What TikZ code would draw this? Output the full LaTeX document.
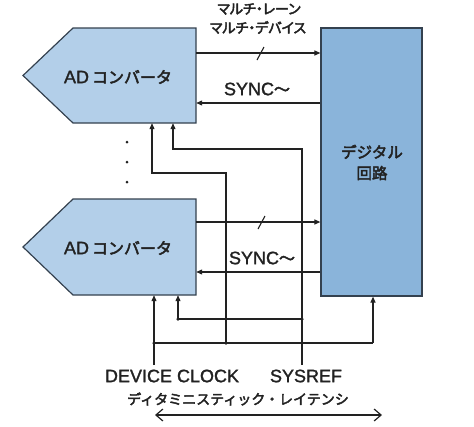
\documentclass[tikz,border=0pt]{standalone}
\usepackage{fontspec}
\setmainfont[UprightFeatures={FakeBold=1.5}]{Liberation Sans}
\newfontfamily\jp[UprightFeatures={FakeBold=3}]{Noto Sans CJK JP}
\newfontfamily\jpp[UprightFeatures={FakeBold=3},RawFeature=+palt]{Noto Sans CJK JP}
\usetikzlibrary{arrows.meta}
\definecolor{adcfill}{HTML}{B3CFE9}
\definecolor{digfill}{HTML}{8AB4DA}
\definecolor{edge}{HTML}{34414F}
\definecolor{ink}{HTML}{222222}
\tikzset{
  blk/.style={draw=edge, line width=1.2pt, line join=miter},
  wire/.style={draw=ink, line width=1.1pt},
  arr/.style={wire, -{Triangle[length=6pt,width=5pt]}},
  jdot/.style={circle, fill=ink, inner sep=0pt, minimum size=3.5pt},
  lat/.style={text=ink, font=\fontsize{18}{21}\selectfont, inner sep=0pt},
  jpl/.style={text=ink, font=\jpp\fontsize{14}{16}\selectfont, inner sep=0pt},
  mybarb/.tip={Straight Barb[length=7pt,width=12pt,line width=1.2pt]},
}
\begin{document}
\begin{tikzpicture}[x=1pt,y=-1pt]
\useasboundingbox (0,0) rectangle (474,426);

% ADC blocks
\path[blk, fill=adcfill] (73,28) -- (196,28) -- (196,123) -- (73,123) -- (23,75.5) -- cycle;
\path[blk, fill=adcfill] (73,199) -- (196,199) -- (196,295) -- (73,295) -- (23,247) -- cycle;
\node[minimum width=123pt, minimum height=95pt, inner sep=0pt] (adc1) at (134.5,75.5) {};
\node[minimum width=123pt, minimum height=96pt, inner sep=0pt] (adc2) at (134.5,247) {};
\node[text=ink, inner sep=0pt] (l1) at (118,77) {\fontsize{18}{21}\selectfont AD\,{\jp\fontsize{16}{18}\selectfont コンバータ}};
\node[text=ink, inner sep=0pt] (l2) at (118,248) {\fontsize{18}{21}\selectfont AD\,{\jp\fontsize{16}{18}\selectfont コンバータ}};

% digital block
\node[blk, fill=digfill, minimum width=101pt, minimum height=268pt, inner sep=0pt] (dig) at (371.5,162) {};
\node[text=ink, align=center, font=\jp\fontsize{15.5}{21}\selectfont, inner sep=0pt] (dl) at (372,162.5) {デジタル\\回路};

% helper coordinates
\coordinate (r1) at (0,53);
\coordinate (s1) at (0,103);
\coordinate (r2) at (0,222);
\coordinate (s2) at (0,272);

% data and sync
\draw[arr] (adc1.east |- r1) -- (dig.west |- r1);
\draw[arr] (dig.west |- s1) -- (adc1.east |- s1);
\draw[arr] (adc2.east |- r2) -- (dig.west |- r2);
\draw[arr] (dig.west |- s2) -- (adc2.east |- s2);
\draw[wire] (257,60) -- (264,47);
\draw[wire] (258,229) -- (265,216);

\node[jpl] (ml) at (259,9) {マルチ・レーン};
\node[jpl] (md) at (258,27.5) {マルチ・デバイス};
\node[lat] (sy1) at (257,89) {SYNC{\jp\fontsize{16}{18}\selectfont 〜}};
\node[lat] (sy2) at (262,258) {SYNC{\jp\fontsize{16}{18}\selectfont 〜}};

% clock / sysref
\node[lat] (dc) at (172,376) {DEVICE CLOCK};
\node[lat] (sr) at (306,376) {SYSREF};
\coordinate (dcs) at (154,365);
\coordinate (srs) at (302,365);
\coordinate (j1) at (154,343);
\coordinate (j2) at (226,343);
\coordinate (j3) at (178,319);
\coordinate (j4) at (302,319);
\coordinate (j5) at (373,343);
\coordinate (c1) at (152,173);
\coordinate (c2) at (173,149);

\draw[arr] (dcs) -- (dcs |- adc2.south);
\draw[wire] (j1) -- (j5);
\draw[arr] (j5) -- (j5 |- dig.south);
\draw[arr] (j2) |- (c1) -- (c1 |- adc1.south);
\draw[arr] (srs) |- (c2) -- (c2 |- adc1.south);
\draw[arr] (j4) -- (j3) -- (j3 |- adc2.south);

\foreach \p in {j1,j2,j3,j4} \node[jdot] at (\p) {};
\foreach \yy in {142,162,182} \node[jdot, minimum size=3pt] at (127,\yy) {};

% deterministic latency
\node[text=ink, font=\jp\fontsize{14}{16}\selectfont, inner sep=0pt] (dl2) at (238,399) {ディタミニスティック・レイテンシ};
\coordinate (la) at (155,415);
\coordinate (lb) at (382,415);
\draw[draw=ink, line width=1.1pt, mybarb-mybarb] (la) -- (lb);
\end{tikzpicture}
\end{document}
